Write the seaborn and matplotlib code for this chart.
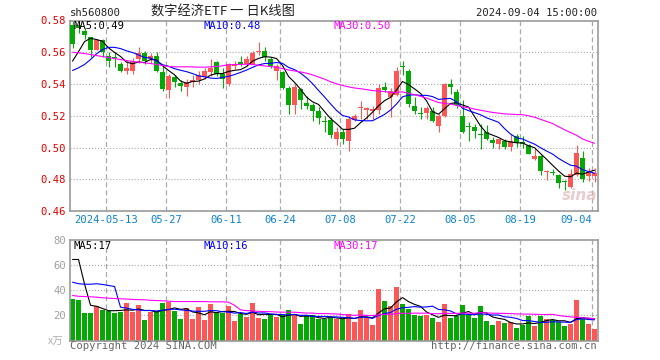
import numpy as np
import pandas as pd
import seaborn as sns
import matplotlib
matplotlib.use('Agg')
import matplotlib.pyplot as plt

sns.set_style('white')
plt.rcParams['font.family'] = ['DejaVu Sans Mono', 'Noto Sans CJK SC']
plt.rcParams['lines.scale_dashes'] = False

# ---------------------------------------------------------------- data
opens = [0.5769, 0.5773, 0.5731, 0.5694, 0.5617, 0.5677, 0.5579, 0.5567, 0.5527, 0.5485,
         0.5485, 0.5560, 0.5598, 0.5560, 0.5579, 0.5477, 0.5365, 0.5444, 0.5406, 0.5381,
         0.5410, 0.5423, 0.5444, 0.5477, 0.5538, 0.5460, 0.5398, 0.5513, 0.5538, 0.5523,
         0.5527, 0.5600, 0.5610, 0.5560, 0.5485, 0.5475, 0.5377, 0.5269, 0.5367, 0.5283,
         0.5267, 0.5227, 0.5165, 0.5175, 0.5054, 0.5096, 0.5040, 0.5173, 0.5250, 0.5238,
         0.5233, 0.5235, 0.5381, 0.5315, 0.5331, 0.5510, 0.5481, 0.5263, 0.5217, 0.5215,
         0.5227, 0.5135, 0.5198, 0.5398, 0.5348, 0.5200, 0.5133, 0.5131, 0.5083, 0.5096,
         0.5050, 0.5019, 0.5044, 0.5002, 0.5075, 0.5029, 0.5013, 0.4929, 0.4944, 0.4844,
         0.4842, 0.4825, 0.4785, 0.4752, 0.4825, 0.4933, 0.4819, 0.4819]
closes = [0.5654, 0.5752, 0.5706, 0.5613, 0.5675, 0.5600, 0.5544, 0.5563, 0.5485, 0.5498,
          0.5548, 0.5598, 0.5548, 0.5579, 0.5485, 0.5367, 0.5448, 0.5410, 0.5385, 0.5410,
          0.5427, 0.5458, 0.5481, 0.5502, 0.5460, 0.5429, 0.5523, 0.5517, 0.5523, 0.5558,
          0.5598, 0.5610, 0.5569, 0.5513, 0.5513, 0.5377, 0.5267, 0.5381, 0.5298, 0.5263,
          0.5231, 0.5183, 0.5158, 0.5079, 0.5100, 0.5054, 0.5177, 0.5198, 0.5252, 0.5248,
          0.5238, 0.5377, 0.5360, 0.5356, 0.5481, 0.5506, 0.5277, 0.5227, 0.5213, 0.5248,
          0.5165, 0.5196, 0.5398, 0.5381, 0.5269, 0.5096, 0.5129, 0.5102, 0.5079, 0.5054,
          0.5027, 0.5054, 0.5002, 0.5038, 0.5027, 0.5025, 0.4961, 0.4944, 0.4852, 0.4848,
          0.4838, 0.4779, 0.4781, 0.4831, 0.4965, 0.4804, 0.4846, 0.4840]
highs = [0.5804, 0.5804, 0.5752, 0.5698, 0.5683, 0.5685, 0.5600, 0.5600, 0.5538, 0.5548,
         0.5565, 0.5631, 0.5610, 0.5596, 0.5600, 0.5517, 0.5465, 0.5458, 0.5427, 0.5431,
         0.5458, 0.5481, 0.5502, 0.5558, 0.5548, 0.5502, 0.5533, 0.5544, 0.5579, 0.5575,
         0.5610, 0.5665, 0.5631, 0.5569, 0.5527, 0.5485, 0.5388, 0.5398, 0.5377, 0.5325,
         0.5283, 0.5252, 0.5200, 0.5190, 0.5127, 0.5117, 0.5190, 0.5210, 0.5294, 0.5256,
         0.5263, 0.5398, 0.5415, 0.5377, 0.5506, 0.5544, 0.5492, 0.5315, 0.5252, 0.5263,
         0.5252, 0.5210, 0.5408, 0.5433, 0.5367, 0.5300, 0.5158, 0.5148, 0.5148, 0.5144,
         0.5065, 0.5054, 0.5054, 0.5085, 0.5085, 0.5075, 0.5023, 0.4998, 0.4950, 0.4860,
         0.4867, 0.4835, 0.4798, 0.4867, 0.5017, 0.4977, 0.4873, 0.4873]
lows = [0.5627, 0.5721, 0.5685, 0.5569, 0.5613, 0.5569, 0.5506, 0.5506, 0.5477, 0.5460,
        0.5460, 0.5533, 0.5523, 0.5533, 0.5477, 0.5356, 0.5313, 0.5381, 0.5354, 0.5323,
        0.5381, 0.5398, 0.5429, 0.5450, 0.5450, 0.5373, 0.5388, 0.5492, 0.5513, 0.5513,
        0.5523, 0.5585, 0.5548, 0.5502, 0.5423, 0.5371, 0.5210, 0.5210, 0.5242, 0.5242,
        0.5169, 0.5148, 0.5096, 0.5060, 0.5013, 0.5023, 0.4981, 0.5165, 0.5179, 0.5179,
        0.5179, 0.5210, 0.5352, 0.5190, 0.5325, 0.5456, 0.5256, 0.5210, 0.5179, 0.5179,
        0.5158, 0.5096, 0.5190, 0.5335, 0.5248, 0.5090, 0.5044, 0.5060, 0.4992, 0.5048,
        0.4998, 0.4992, 0.4992, 0.4981, 0.5002, 0.4998, 0.4956, 0.4923, 0.4825, 0.4794,
        0.4825, 0.4748, 0.4731, 0.4748, 0.4819, 0.4783, 0.4790, 0.4783]
volumes = [33.0, 32.2, 21.8, 21.8, 27.4, 24.2, 23.4, 21.8, 22.9, 29.8,
           22.6, 28.2, 16.2, 22.6, 23.4, 29.8, 30.6, 23.4, 17.0, 25.8,
           17.0, 26.6, 16.2, 29.0, 21.8, 21.8, 27.4, 15.4, 21.0, 18.7,
           29.7, 17.8, 17.0, 20.6, 18.6, 20.3, 24.2, 20.0, 13.0, 20.2,
           20.2, 17.5, 17.0, 18.0, 17.2, 17.0, 21.0, 14.6, 24.1, 17.8,
           12.2, 40.8, 31.3, 27.3, 42.4, 28.9, 24.9, 20.2, 19.4, 20.2,
           17.8, 14.6, 28.9, 17.8, 19.4, 28.1, 21.0, 17.8, 27.3, 15.4,
           12.2, 15.4, 13.8, 14.6, 9.8, 12.2, 19.4, 11.4, 19.4, 17.0,
           16.2, 14.6, 11.4, 13.0, 32.0, 18.5, 13.5, 9.0]

# moving averages at the start of the window (they use days before the chart)
ma5_head = [0.5544, 0.5604, 0.5667, 0.5688]
ma10_head = [0.5485, 0.5502, 0.5523, 0.5554, 0.5590, 0.5617, 0.5631, 0.5631, 0.5623]
ma30_head = [0.5600, 0.5596, 0.5592, 0.5585, 0.5579, 0.5573, 0.5567, 0.5560, 0.5554, 0.5548,
             0.5542, 0.5538, 0.5533, 0.5529, 0.5523, 0.5517, 0.5510, 0.5508, 0.5508, 0.5508,
             0.5508, 0.5506, 0.5506, 0.5508, 0.5510, 0.5515, 0.5521, 0.5523, 0.5523]
vma5_head = [64.5, 64.5, 45.0, 28.0]
vma10_head = [46.4, 45.2, 44.8, 44.8, 45.2, 44.6, 43.8, 43.0, 26.5]
vma30_head = [35.8, 35.2, 35.0, 34.8, 34.5, 34.0, 33.7, 33.4, 33.2, 33.0,
              32.7, 32.5, 32.4, 32.0, 31.8, 31.6, 31.3, 31.0, 31.0, 31.0,
              31.0, 31.0, 31.0, 30.8, 30.8, 30.8, 30.5, 28.0, 24.4]

tick_pos = [6, 16, 26, 35, 45, 55, 65, 75, 87]
tick_labels = ['2024-05-13', '05-27', '06-11', '06-24', '07-08', '07-22', '08-05', '08-19', '09-04']
price_ticks = [0.46, 0.48, 0.50, 0.52, 0.54, 0.56, 0.58]
vol_ticks = [20, 40, 60, 80]
price_legend = ['MA5:0.49', 'MA10:0.48', 'MA30:0.50']
vol_legend = ['MA5:17', 'MA10:16', 'MA30:17']

# ---------------------------------------------------------------- frame
df = pd.DataFrame({'open': opens, 'close': closes, 'high': highs, 'low': lows, 'vol': volumes})
df['idx'] = np.arange(len(df))


def moving(s, n, head):
    r = s.rolling(n).mean()
    r.iloc[:n - 1] = head
    return r


df['ma5'] = moving(df['close'], 5, ma5_head)
df['ma10'] = moving(df['close'], 10, ma10_head)
df['ma30'] = moving(df['close'], 30, ma30_head)
df['vma5'] = moving(df['vol'], 5, vma5_head)
df['vma10'] = moving(df['vol'], 10, vma10_head)
df['vma30'] = moving(df['vol'], 30, vma30_head)

RED = '#fb5757'
GREEN = '#05a805'
df['color'] = np.where(df['close'] >= df['open'], RED, GREEN)

W, H = 660, 360
fig = plt.figure(figsize=(6.6, 3.6), dpi=100)
ax1 = fig.add_axes([70 / W, 1 - 211 / H, 528 / W, 190.5 / H])
ax2 = fig.add_axes([70 / W, 1 - 340.5 / H, 528 / W, 100.5 / H])

x_lo, x_hi = -0.42, len(df) - 0.42
grid_x = [p - 0.42 for p in tick_pos]
line_colors = ['black', '#0000ff', '#ff00ff']

for ax in (ax1, ax2):
    ax.set_xlim(x_lo, x_hi)
    for s in ax.spines.values():
        s.set_color('#9a9a9a')
        s.set_linewidth(1.2)
    for gx in grid_x:
        ax.axvline(gx, color='#aaaaaa', lw=0.9, ls=(0, (3.6, 2.2)), zorder=0)
    ax.tick_params(length=0)

# price panel
for gy in price_ticks[1:-1]:
    ax1.axhline(gy, color='#aaaaaa', lw=0.8, ls=(0, (0.8, 1.4)), zorder=0)

ax1.vlines(df['idx'], df['low'], df['high'], colors=df['color'], lw=0.8, zorder=2)
body = np.maximum((df['close'] - df['open']).abs(), 0.0007)
ax1.bar(df['idx'], body, bottom=np.minimum(df['open'], df['close']),
        width=0.8, color=df['color'], linewidth=0, zorder=3)

for col, c in zip(['ma5', 'ma10', 'ma30'], line_colors):
    sns.lineplot(data=df, x='idx', y=col, ax=ax1, color=c, lw=0.8, zorder=4, legend=False)

ax1.set_ylim(0.46, 0.58)
ax1.set_yticks(price_ticks)
ax1.set_yticklabels([f'{t:.2f}' for t in price_ticks], color='#e60000', fontsize=7.6)
ax1.tick_params(axis='y', pad=3)
ax1.set_xticks(grid_x)
ax1.set_xticklabels(tick_labels, color='#0a82d2', fontsize=7.6)
ax1.tick_params(axis='x', pad=3)
ax1.get_xticklabels()[-1].set_ha('right')
ax1.set_xlabel('')
ax1.set_ylabel('')

# volume panel
for gy in vol_ticks[:-1]:
    ax2.axhline(gy, color='#aaaaaa', lw=0.8, ls=(0, (0.8, 1.4)), zorder=0)
ax2.bar(df['idx'], df['vol'], width=0.8, color=df['color'], linewidth=0, zorder=2)
for col, c in zip(['vma5', 'vma10', 'vma30'], line_colors):
    sns.lineplot(data=df, x='idx', y=col, ax=ax2, color=c, lw=0.8, zorder=4, legend=False)
ax2.set_ylim(0, 80)
ax2.set_yticks(vol_ticks)
ax2.set_yticklabels([str(t) for t in vol_ticks], color='#a0a0a0', fontsize=7.6)
ax2.tick_params(axis='y', pad=3)
ax2.set_xticks([])
ax2.set_xlabel('')
ax2.set_ylabel('')

# texts
def px(x, y, s, **kw):
    fig.text(x / W, 1 - y / H, s, va='center', **kw)


leg_x = [73, 204, 334]
for x, s, c in zip(leg_x, price_legend, line_colors):
    px(x, 26, s, color=c, fontsize=7.6)
for x, s, c in zip(leg_x, vol_legend, line_colors):
    px(x, 246, s, color=c, fontsize=7.6)

px(70, 13, 'sh560800', color='#222222', fontsize=7.6)
px(597, 13, '2024-09-04 15:00:00', color='#222222', fontsize=7.6, ha='right')
px(223, 12, '数字经济ETF 一 日K线图', color='#222222', fontsize=9.5, ha='center',
   family=['Noto Sans CJK SC', 'DejaVu Sans'])
px(70, 346, 'Copyright 2024 SINA.COM', color='#666666', fontsize=7.6)
px(597, 346, 'http://finance.sina.com.cn', color='#666666', fontsize=7.6, ha='right')
px(56, 341, 'x万', color='#b0b0b0', fontsize=7.6, ha='center', style='italic',
   family=['Noto Sans CJK SC', 'DejaVu Sans'])
px(580, 195, 'sina', color='#e0b8b8', fontsize=11, ha='center', style='italic',
   weight='bold', family='DejaVu Sans', alpha=0.7)

fig.savefig('out.png', dpi=100)
